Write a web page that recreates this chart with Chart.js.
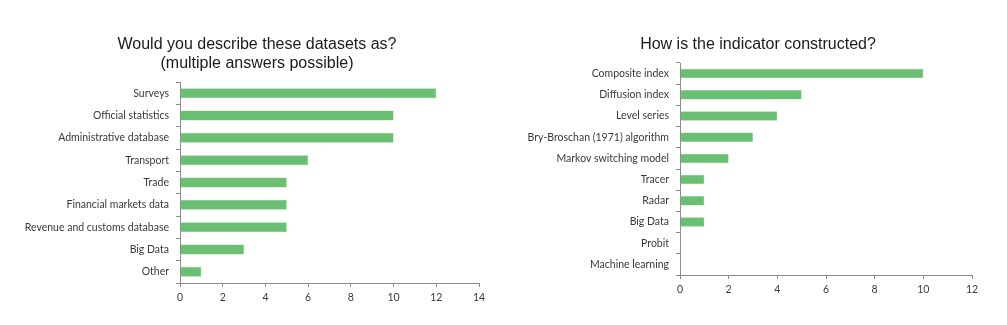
<!DOCTYPE html>
<html>
<head>
<meta charset="utf-8">
<script src="https://cdn.jsdelivr.net/npm/chart.js@4/dist/chart.umd.min.js"></script>
<style>
  body { margin: 0; background: #fff; }
  #wrap { position: relative; width: 1007px; height: 325px; overflow: hidden; }
  .box { position: absolute; top: 0; height: 325px; }
  .title { position: absolute; font-family: "Liberation Sans", Arial, sans-serif; font-size: 16px;
           color: #1a1a1a; text-align: center; line-height: 19px; white-space: nowrap; transform: translateX(-50%); }
</style>
</head>
<body>
<div id="wrap">
  <div class="box" style="left:0; width:500px;"><canvas id="chartA"></canvas></div>
  <div class="box" style="left:500px; width:507px;"><canvas id="chartB"></canvas></div>
  <div class="title" style="left:257px; top:34px;">Would you describe these datasets as?<br>(multiple answers possible)</div>
  <div class="title" style="left:758px; top:34px;">How is the indicator constructed?</div>
</div>
<script>
const datasetLabels = ['Surveys', 'Official statistics', 'Administrative database', 'Transport', 'Trade',
  'Financial markets data', 'Revenue and customs database', 'Big Data', 'Other'];
const datasetCounts = [12, 10, 10, 6, 5, 5, 5, 3, 1];

const methodLabels = ['Composite index', 'Diffusion index', 'Level series', 'Bry-Broschan (1971) algorithm',
  'Markov switching model', 'Tracer', 'Radar', 'Big Data', 'Probit', 'Machine learning'];
const methodCounts = [10, 5, 4, 3, 2, 1, 1, 1, 0, 0];

const barColor = '#6bbf73';
const axisColor = '#8c8c8c';
const tickFont = { family: 'Lato, "Open Sans", sans-serif', size: 10.5 };

function makeChart(id, labels, values, xMax, pad, yWidth) {
  const ctx = document.getElementById(id).getContext('2d');
  return new Chart(ctx, {
    type: 'bar',
    data: {
      labels: labels,
      datasets: [{
        data: values,
        backgroundColor: barColor,
        borderColor: '#8fd095',
        borderWidth: 0.5,
        barPercentage: 0.9,
        categoryPercentage: 0.5,
      }],
    },
    options: {
      indexAxis: 'y',
      responsive: false,
      animation: false,
      layout: { padding: pad },
      scales: {
        x: {
          min: 0,
          max: xMax,
          ticks: { stepSize: 2, color: '#3a3a3a', font: tickFont, padding: 4 },
          grid: { drawOnChartArea: false, tickLength: 4, color: axisColor },
          border: { color: axisColor, width: 1 },
          afterFit: (scale) => { scale.height = 30; },
        },
        y: {
          ticks: { color: '#3a3a3a', font: tickFont, padding: 7 },
          grid: { drawOnChartArea: false, offset: true, tickLength: 4, color: axisColor },
          border: { color: axisColor, width: 1 },
          afterFit: (scale) => { scale.width = yWidth; },
        },
      },
      plugins: {
        legend: { display: false },
        tooltip: { enabled: false },
      },
    },
  });
}

function sizeCanvas(id, w, h) {
  const c = document.getElementById(id);
  c.width = w; c.height = h;
  c.style.width = w + 'px'; c.style.height = h + 'px';
}

sizeCanvas('chartA', 500, 325);
sizeCanvas('chartB', 507, 325);

makeChart('chartA', datasetLabels, datasetCounts, 14, { top: 82, right: 21, bottom: 12, left: 0 }, 180);
makeChart('chartB', methodLabels, methodCounts, 12, { top: 63, right: 35, bottom: 20, left: 0 }, 180);
</script>
</body>
</html>
